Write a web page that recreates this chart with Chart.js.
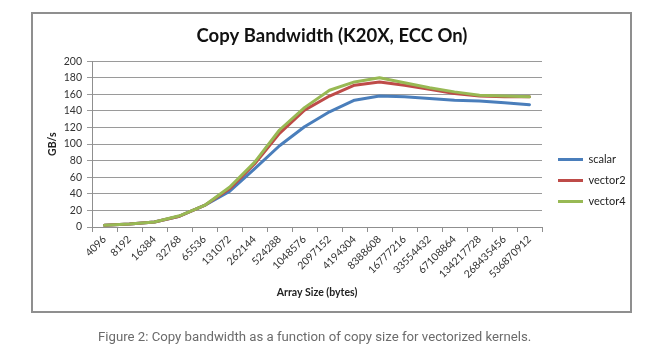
<!DOCTYPE html>
<html>
<head>
<meta charset="utf-8">
<script src="https://cdn.jsdelivr.net/npm/chart.js@4.4.1/dist/chart.umd.min.js"></script>
<style>
  html, body { margin: 0; padding: 0; background: #ffffff; }
  body { width: 665px; height: 356px; position: relative; overflow: hidden; }
  #frame { position: absolute; left: 31px; top: 12px; width: 601px; height: 301px; box-sizing: border-box; border: 2px solid #8f8f8f; background: #ffffff; }
  #wrap { position: absolute; left: 0; top: 0; width: 665px; height: 356px; }
  #caption { position: absolute; left: 98px; top: 329px; font-family: Roboto, "Noto Sans", sans-serif; font-size: 13.2px; color: #6b6b6b; white-space: nowrap; }
</style>
</head>
<body>
<div id="frame"></div>
<div id="wrap"><canvas id="c" width="665" height="356"></canvas></div>
<div id="caption">Figure 2: Copy bandwidth as a function of copy size for vectorized kernels.</div>
<script>
const categories = ['4096','8192','16384','32768','65536','131072','262144','524288','1048576','2097152','4194304','8388608','16777216','33554432','67108864','134217728','268435456','536870912'];
const seriesNames = ['scalar', 'vector2', 'vector4'];
const scalar  = [2, 3.5, 6, 13, 26, 43, 70, 98, 121, 139, 153, 158, 157, 155, 153, 152, 150, 147.5];
const vector2 = [2, 3.5, 6, 13, 26, 46, 76, 113, 141, 158, 171, 175, 171, 166, 161, 158, 157, 157];
const vector4 = [2, 3.5, 6, 13.5, 26, 48, 78, 117, 144, 165, 175, 180, 174, 168, 163, 159, 158, 157];
const yTicks = [0, 20, 40, 60, 80, 100, 120, 140, 160, 180, 200];

const colors = ['#4a7ebb', '#be4b48', '#98b954'];
const font = 'Lato, Carlito, "Liberation Sans", sans-serif';

const legendTweak = {
  id: 'legendTweak',
  afterInit(chart) {
    const lg = chart.legend;
    if (lg && !lg._patched) {
      const f = lg.fit;
      lg.fit = function () { f.call(this); this.width = 90; };
      lg._patched = true;
    }
  },
  afterLayout(chart) {
    const lg = chart.legend;
    if (lg) {
      const dx = 6, dy = 18;
      lg.left += dx; lg.right += dx;
      lg.top += dy; lg.bottom += dy;
    }
  }
};

new Chart(document.getElementById('c'), {
  type: 'line',
  data: {
    labels: categories,
    datasets: [
      { label: seriesNames[0], data: scalar,  borderColor: colors[0], backgroundColor: colors[0], borderWidth: 3, order: 3 },
      { label: seriesNames[1], data: vector2, borderColor: colors[1], backgroundColor: colors[1], borderWidth: 3, order: 2 },
      { label: seriesNames[2], data: vector4, borderColor: colors[2], backgroundColor: colors[2], borderWidth: 3, order: 1 }
    ]
  },
  options: {
    responsive: false,
    animation: false,
    devicePixelRatio: 1,
    layout: { padding: { left: 32, top: 13, right: 33, bottom: 44 } },
    elements: {
      line: { borderWidth: 3, tension: 0, borderCapStyle: 'round', borderJoinStyle: 'round' },
      point: { radius: 0, hoverRadius: 0 }
    },
    plugins: {
      title: {
        display: true,
        text: 'Copy Bandwidth (K20X, ECC On)',
        color: '#111111',
        font: { family: font, size: 18.5, weight: 'bold', lineHeight: 1.2 },
        padding: { top: 12, bottom: 14 }
      },
      legend: {
        display: true,
        position: 'right',
        align: 'center',
        labels: {
          usePointStyle: true,
          pointStyle: 'line',
          pointStyleWidth: 25,
          boxHeight: 3,
          padding: 10,
          color: '#222222',
          font: { family: font, size: 11 },
          sort: (a, b) => a.datasetIndex - b.datasetIndex
        }
      },
      tooltip: { enabled: false }
    },
    scales: {
      x: {
        type: 'category',
        offset: true,
        afterFit(s) { s.height = 85; },
        grid: { drawOnChartArea: false, offset: true, drawTicks: true, tickLength: 5, color: '#8f8f8f', lineWidth: 1 },
        border: { display: true, color: '#8f8f8f', width: 1 },
        ticks: {
          autoSkip: false, minRotation: 45, maxRotation: 45, padding: 1,
          color: '#333333', font: { family: font, size: 10.5 }
        },
        title: {
          display: true, text: 'Array Size (bytes)', color: '#222222',
          font: { family: font, size: 10.5, weight: 'bold', lineHeight: 1.2 },
          padding: { top: 4, bottom: 13 }
        }
      },
      y: {
        min: 0, max: 200,
        afterFit(s) { s.width = 60; },
        afterBuildTicks(s) { s.ticks = yTicks.map(v => ({ value: v })); },
        grid: { color: '#9a9a9a', lineWidth: 1, tickLength: 5, drawTicks: true },
        border: { display: true, color: '#8f8f8f', width: 1 },
        ticks: { padding: 5, color: '#333333', font: { family: font, size: 10.5 } },
        title: {
          display: true, text: 'GB/s', color: '#222222',
          font: { family: font, size: 10.5, weight: 'bold', lineHeight: 1.2 },
          padding: { top: 14, bottom: 4 }
        }
      }
    }
  },
  plugins: [legendTweak]
});
</script>
</body>
</html>
